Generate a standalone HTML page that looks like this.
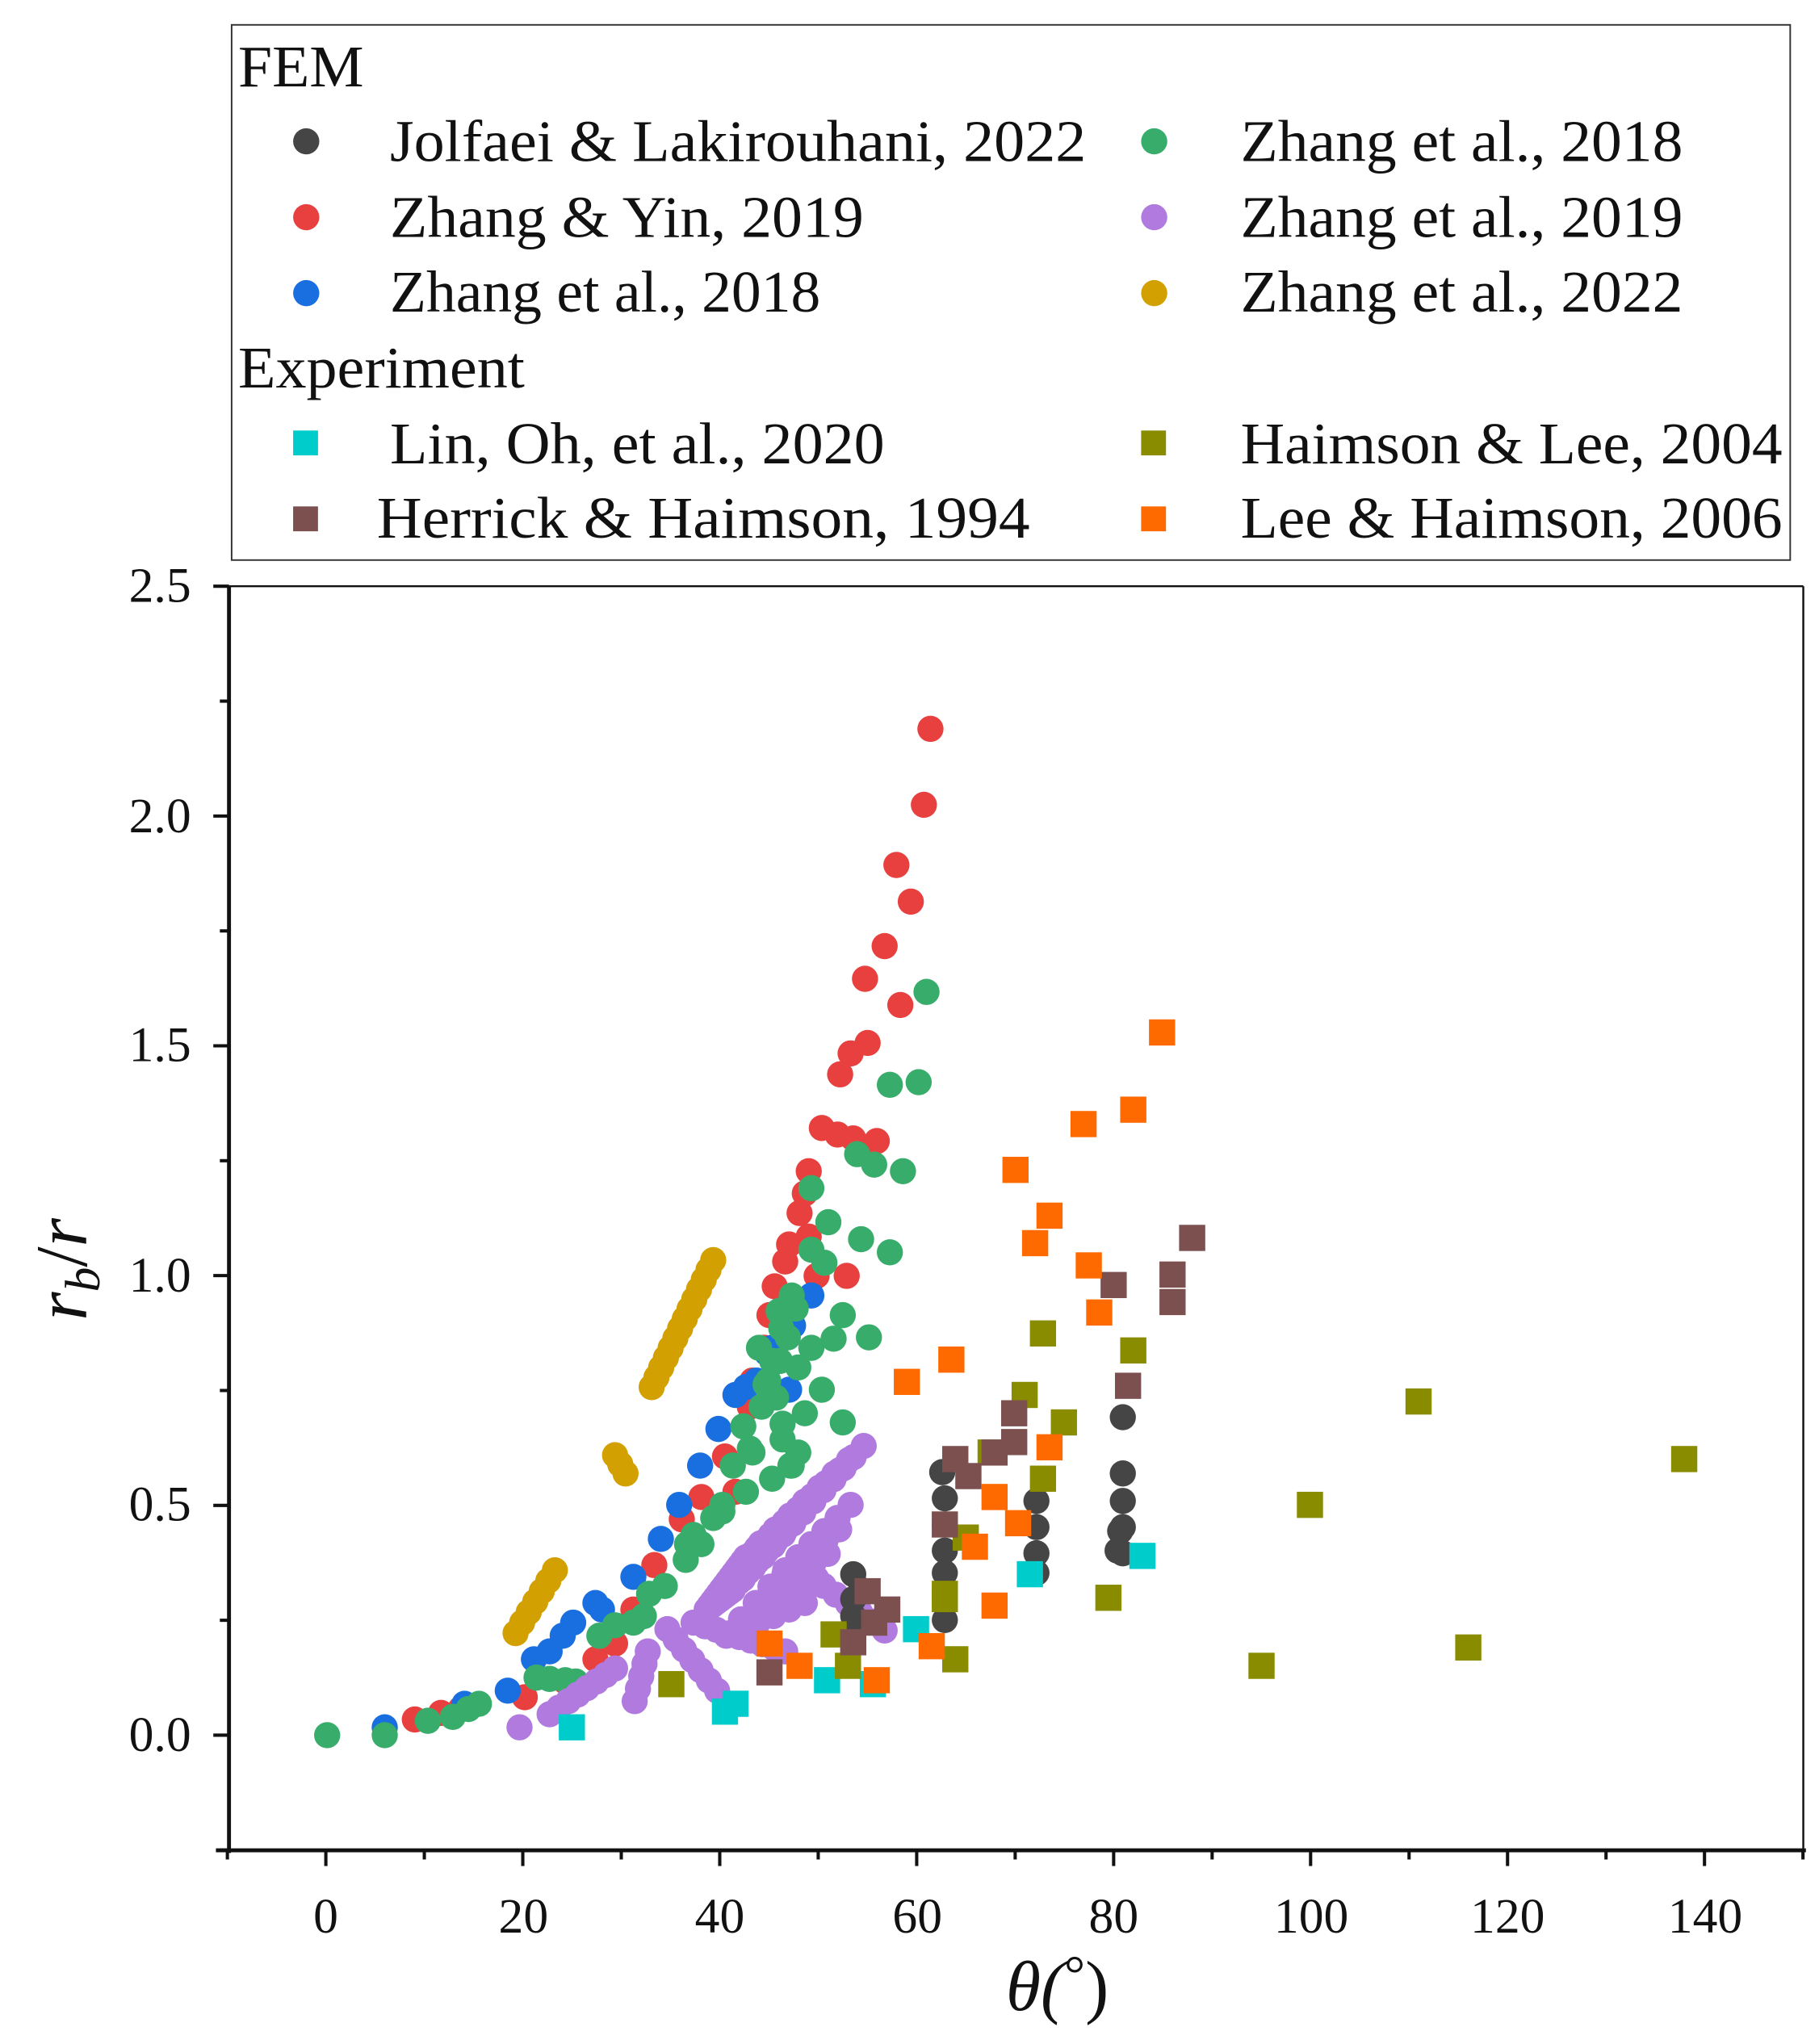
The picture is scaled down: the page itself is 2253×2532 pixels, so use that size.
<!DOCTYPE html>
<html><head><meta charset="utf-8"><style>
html,body{margin:0;padding:0;background:#fff}
svg{display:block}
text{font-family:"Liberation Serif",serif;fill:#111}
</style></head><body>
<svg id="s" width="2253" height="2532" viewBox="0 0 1390 1562" preserveAspectRatio="none" xmlns="http://www.w3.org/2000/svg">
<rect x="0" y="0" width="1390" height="1562" fill="#fff"/>
<rect x="177" y="19" width="1191" height="409" fill="#fff" stroke="#333" stroke-width="1.2"/>
<g font-size="45" lengthAdjust="spacingAndGlyphs">
<text x="182" y="66" textLength="96" lengthAdjust="spacingAndGlyphs">FEM</text>
<text x="298" y="123" textLength="532" lengthAdjust="spacingAndGlyphs">Jolfaei &amp; Lakirouhani, 2022</text>
<text x="298" y="181" textLength="362" lengthAdjust="spacingAndGlyphs">Zhang &amp; Yin, 2019</text>
<text x="298" y="238" textLength="329" lengthAdjust="spacingAndGlyphs">Zhang et al., 2018</text>
<text x="948" y="123" textLength="338" lengthAdjust="spacingAndGlyphs">Zhang et al., 2018</text>
<text x="948" y="181" textLength="338" lengthAdjust="spacingAndGlyphs">Zhang et al., 2019</text>
<text x="948" y="238" textLength="338" lengthAdjust="spacingAndGlyphs">Zhang et al., 2022</text>
<text x="182" y="296" textLength="219" lengthAdjust="spacingAndGlyphs">Experiment</text>
<text x="298" y="354" textLength="378" lengthAdjust="spacingAndGlyphs">Lin, Oh, et al., 2020</text>
<text x="288" y="411" textLength="499" lengthAdjust="spacingAndGlyphs">Herrick  &amp; Haimson, 1994</text>
<text x="948" y="354" textLength="414" lengthAdjust="spacingAndGlyphs">Haimson &amp; Lee, 2004</text>
<text x="948" y="411" textLength="414" lengthAdjust="spacingAndGlyphs">Lee &amp; Haimson, 2006</text>
</g>
<circle cx="234" cy="108" r="10" fill="#454545"/>
<circle cx="234" cy="166" r="10" fill="#e8403f"/>
<circle cx="234" cy="224" r="10" fill="#1a6fe0"/>
<circle cx="882" cy="108" r="10" fill="#38ad6b"/>
<circle cx="882" cy="166" r="10" fill="#b07ade"/>
<circle cx="882" cy="224" r="10" fill="#d2a000"/>
<rect x="224" y="329" width="19" height="19" fill="#00cccc"/>
<rect x="224" y="387" width="19" height="19" fill="#7d5050"/>
<rect x="872" y="329" width="19" height="19" fill="#8a8c00"/>
<rect x="872" y="387" width="19" height="19" fill="#ff6a00"/>
<g stroke="#111" fill="none">
<line x1="175" y1="448" x2="1378" y2="448" stroke-width="1.5"/>
<line x1="1378" y1="448" x2="1378" y2="1414" stroke-width="1.5"/>
<line x1="175" y1="448" x2="175" y2="1416" stroke-width="3"/>
<line x1="165" y1="1414" x2="1380" y2="1414" stroke-width="3"/>
</g>
<g id="ticks" stroke="#111" stroke-width="2.5"></g>
<g font-size="38" text-anchor="end">
<text x="146" y="460">2.5</text>
<text x="146" y="636">2.0</text>
<text x="146" y="811">1.5</text>
<text x="146" y="987">1.0</text>
<text x="146" y="1162">0.5</text>
<text x="146" y="1338">0.0</text>
</g>
<g font-size="38" text-anchor="middle">
<text x="249" y="1477">0</text>
<text x="400" y="1477">20</text>
<text x="550" y="1477">40</text>
<text x="701" y="1477">60</text>
<text x="851" y="1477">80</text>
<text x="1002" y="1477">100</text>
<text x="1152" y="1477">120</text>
<text x="1303" y="1477">140</text>
</g>
<text x="808" y="1536" font-size="54" text-anchor="middle" font-style="italic">θ(<tspan font-style="normal" font-size="40" dy="-14">°</tspan><tspan dy="14" font-style="normal">)</tspan></text>
<text transform="translate(66,970) rotate(-90)" font-size="56" text-anchor="middle" font-style="italic">r<tspan font-size="38" dy="10">b</tspan><tspan dy="-10" font-style="normal">/</tspan>r</text>
<g id="pts"></g>
</svg>
<script>
var NS="http://www.w3.org/2000/svg",T=document.getElementById("ticks"),P=document.getElementById("pts");
function ln(a,b,c,d){var l=document.createElementNS(NS,"line");l.setAttribute("x1",a);l.setAttribute("y1",b);l.setAttribute("x2",c);l.setAttribute("y2",d);T.appendChild(l);}
for(var v=-10;v<=150;v+=10){var x=249+7.525*v;ln(x,1414,x,(v%20==0)?1426:1421);}
for(var k=-1;k<=10;k++){var y=1326-351.2*k*0.25;ln(175,y,(k%2==0)?163:168,y);}
function C(col,arr){arr.forEach(function(p){var c=document.createElementNS(NS,"circle");c.setAttribute("cx",p[0]);c.setAttribute("cy",p[1]);c.setAttribute("r",10);c.setAttribute("fill",col);P.appendChild(c);});}
function S(col,arr){arr.forEach(function(p){var c=document.createElementNS(NS,"rect");c.setAttribute("x",p[0]-10);c.setAttribute("y",p[1]-10);c.setAttribute("width",20);c.setAttribute("height",20);c.setAttribute("fill",col);P.appendChild(c);});}
function L(a,b,n){var r=[];for(var i=0;i<n;i++){var t=n>1?i/(n-1):0;r.push([a[0]+(b[0]-a[0])*t,a[1]+(b[1]-a[1])*t]);}return r;}
var red=[[711,557],[706,615],[685,661],[696,689],[676,723],[661,748],[688,768],[663,797],[650,805],[642,821],[628,862],[640,867],[652,870],[670,872],[618,895],[615,912],[611,927],[618,945],[603,951],[600,964],[624,975],[647,975],[592,983],[588,1005],[584,1030],[575,1055],[573,1075],[554,1113],[562,1140],[536,1144],[521,1161],[500,1196],[484,1230],[470,1256],[455,1268],[432,1285],[401,1297],[352,1306],[337,1309],[317,1314]];
var blue=[[294,1320],[355,1302],[388,1292],[408,1268],[420,1262],[430,1250],[438,1240],[455,1225],[460,1230],[484,1205],[505,1176],[519,1150],[535,1120],[549,1092],[562,1066],[570,1060],[586,1034],[590,1030],[606,1013],[620,990],[578,1055],[603,1062]];
var green=[[250,1326],[294,1326],[327,1315],[346,1312],[358,1306],[366,1302],[410,1282],[420,1283],[432,1284],[440,1285],[458,1250],[470,1242],[484,1240],[492,1235],[496,1218],[508,1212],[524,1192],[536,1180],[552,1155],[570,1140],[590,1130],[610,1110],[604,1120],[615,1080],[593,1068],[598,1100],[575,1110],[560,1120],[596,1040],[602,1022],[608,1000],[620,955],[630,965],[628,1062],[644,1087],[637,1023],[644,1005],[664,1022],[708,758],[680,829],[702,827],[655,882],[668,890],[690,895],[620,908],[633,934],[658,947],[680,957],[610,1045],[620,1030],[597,1015],[580,1030],[587,1055],[598,1088],[605,1120],[552,1150],[545,1160],[530,1173],[525,1180],[568,1090],[573,1107],[582,1075],[585,1058],[590,1040],[595,1002],[600,1000],[605,990]];
var purple=[[397,1320]].concat(L([420,1310],[470,1275],8),L([485,1300],[495,1262],5),L([510,1245],[548,1292],7),L([530,1240],[600,1262],9),L([620,1205],[676,1246],7));
for(var i=0;i<14;i++){var t=i/13;purple=purple.concat(L([540+t*30,1230-t*40],[560+t*100,1215-t*110],9));}
for(var i=0;i<6;i++){purple=purple.concat(L([555+i*12,1250-i*5],[600+i*10,1200-i*10],5));}
var gold=L([394,1248],[424,1200],7).concat(L([470,1112],[478,1126],3),L([498,1060],[545,963],14));
var gray=[[652,1203],[652,1222],[652,1235],[652,1250],[658,1215],[660,1240],[720,1125],[722,1145],[722,1165],[722,1185],[722,1202],[722,1222],[722,1238],[792,1147],[792,1167],[792,1187],[792,1202],[858,1083],[858,1126],[858,1147],[858,1167],[858,1187],[856,1170],[854,1185]];
C("#e8403f",red);C("#1a6fe0",blue);C("#38ad6b",green);C("#b07ade",purple);C("#d2a000",gold);C("#454545",gray);
S("#00cccc",[[437,1320],[554,1308],[562,1302],[632,1284],[667,1287],[700,1245],[787,1203],[873,1189]]);
S("#8a8c00",[[513,1287],[637,1249],[648,1273],[722,1222],[730,1268],[738,1175],[757,1110],[783,1066],[797,1019],[797,1130],[813,1087],[847,1221],[866,1032],[964,1273],[1001,1150],[1084,1071],[1122,1259],[1287,1115],[722,1218]]);
S("#7d5050",[[588,1278],[663,1216],[668,1240],[678,1230],[652,1255],[722,1165],[730,1115],[740,1128],[775,1080],[775,1102],[851,982],[862,1059],[896,974],[896,995],[911,946],[760,1110]]);
S("#ff6a00",[[588,1256],[611,1273],[670,1284],[693,1056],[712,1258],[727,1039],[745,1182],[760,1144],[760,1227],[776,894],[778,1164],[791,950],[802,929],[802,1106],[828,859],[832,967],[840,1003],[866,848],[888,789]]);
</script>
</body></html>
